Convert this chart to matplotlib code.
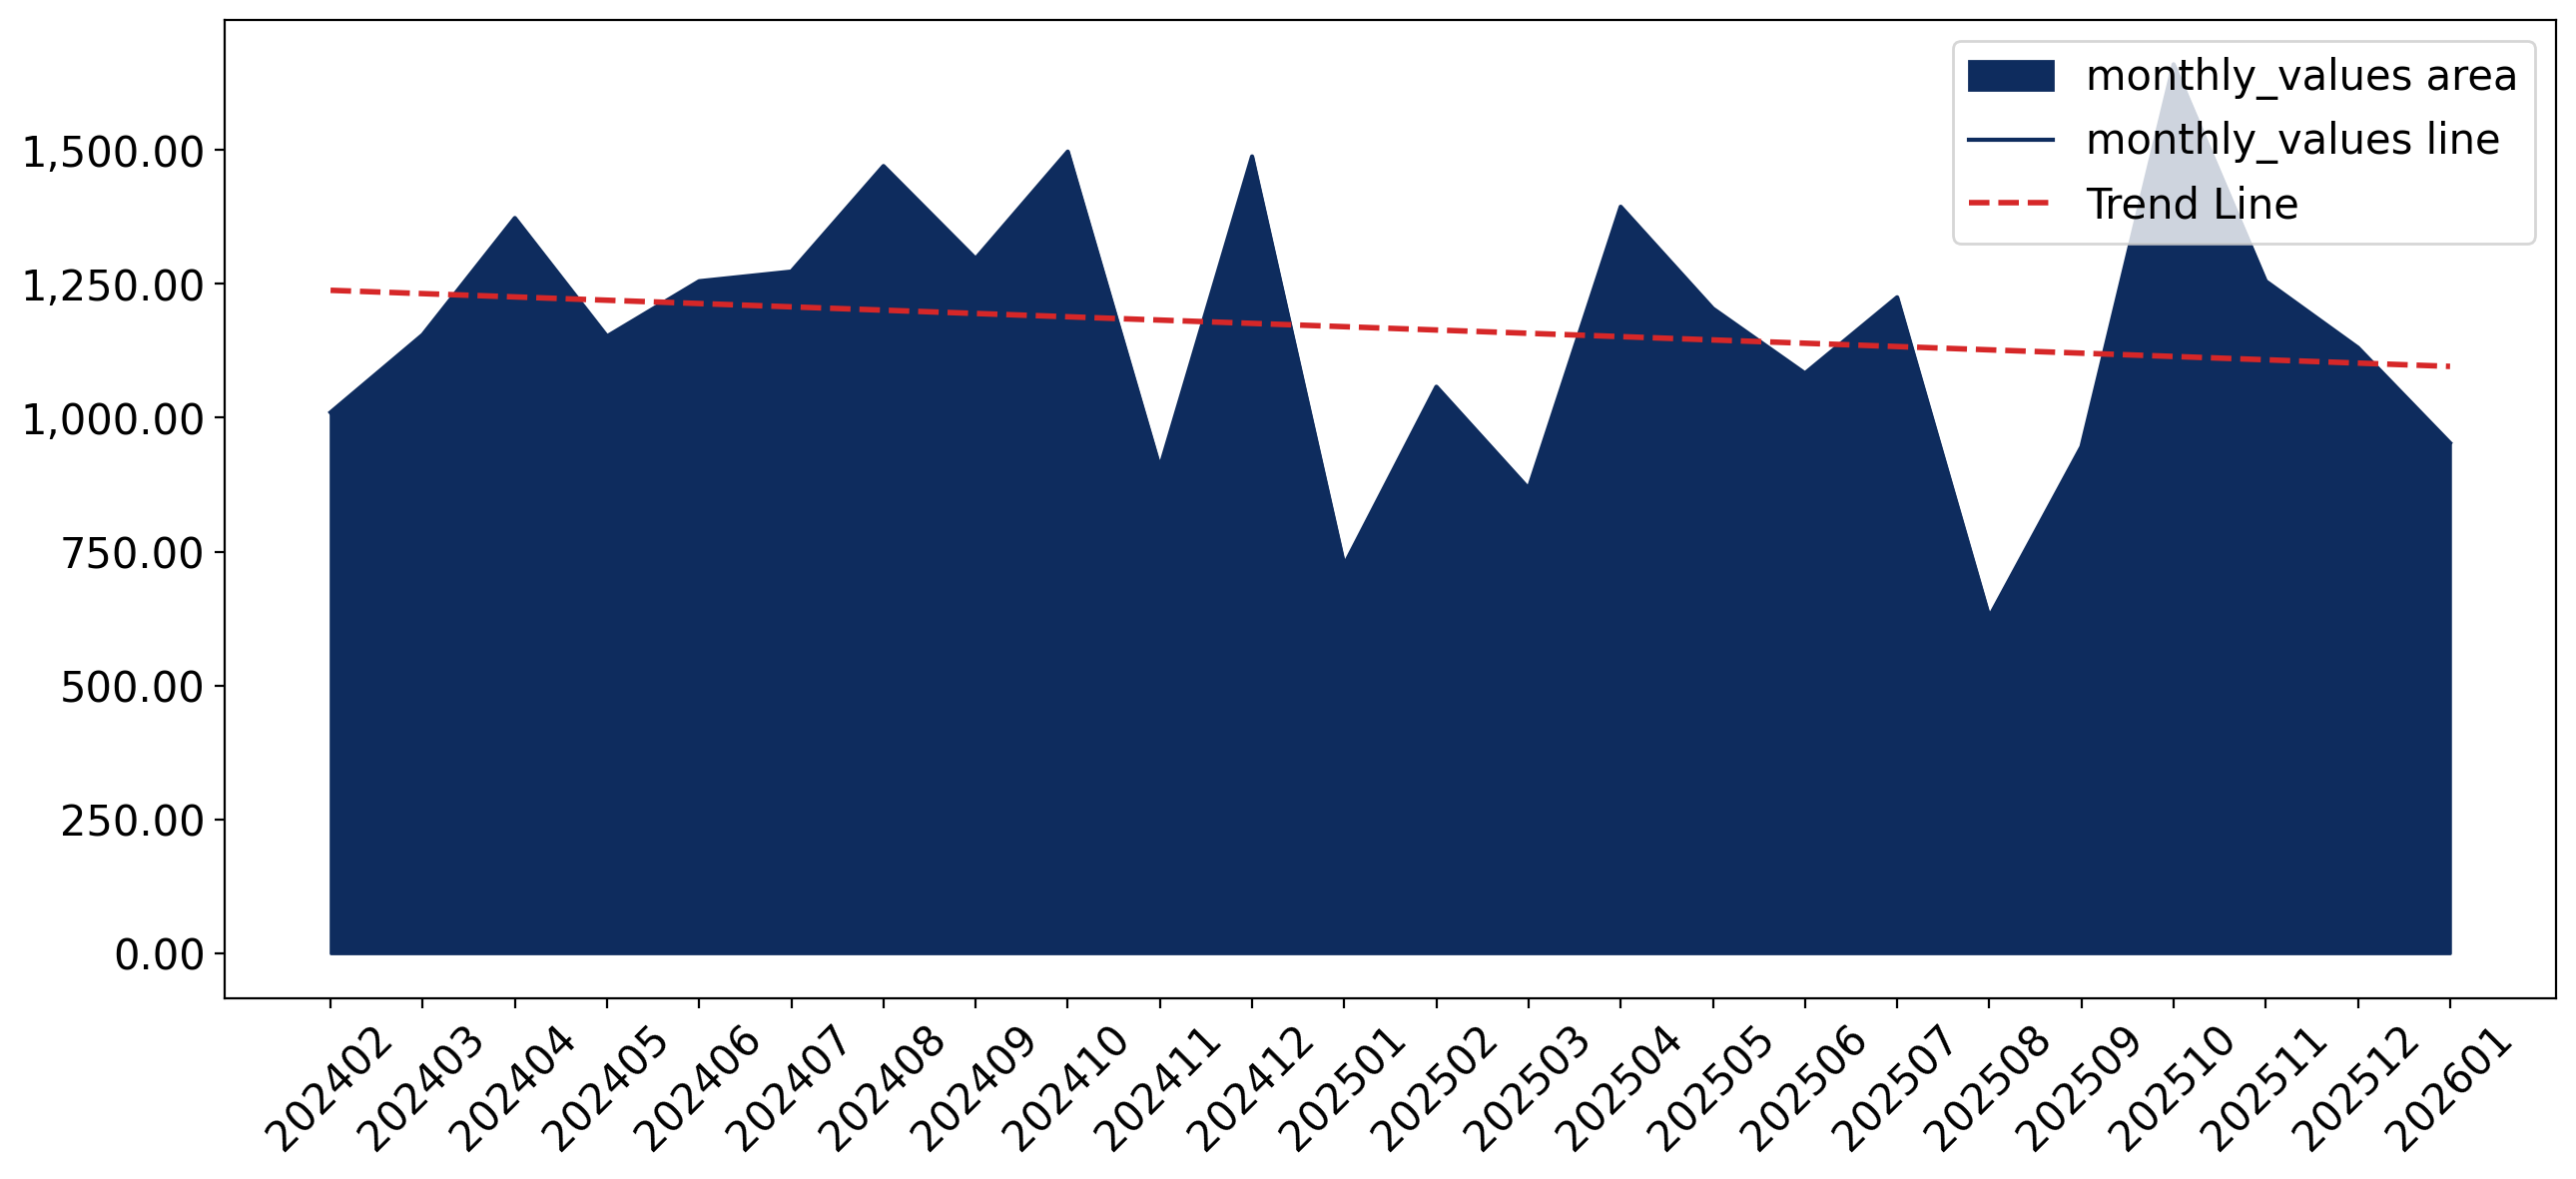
import matplotlib

matplotlib.use('Agg')

import matplotlib.pyplot as plt
import matplotlib.ticker as mticker
import numpy as np

months = ['202402', '202403', '202404', '202405', '202406', '202407', '202408', '202409',
          '202410', '202411', '202412', '202501', '202502', '202503', '202504', '202505',
          '202506', '202507', '202508', '202509', '202510', '202511', '202512', '202601']
monthly_values = [1010, 1155, 1373, 1152, 1255, 1273, 1470, 1297,
                  1497, 907, 1488, 725, 1058, 868, 1394, 1204,
                  1083, 1225, 628, 946, 1660, 1255, 1131, 953]

area_color = '#0e2c5e'

fig, ax = plt.subplots(figsize=(13, 6))
x = np.arange(len(months))

# 面積 + 線
ax.fill_between(x, monthly_values, color=area_color, label='monthly_values area')
ax.plot(x, monthly_values, color=area_color, linewidth=1.5, label='monthly_values line')

# 趨勢線
slope, intercept = np.polyfit(x, monthly_values, 1)
ax.plot(x, slope * x + intercept, linestyle='--', color='#d62728', linewidth=2, label='Trend Line')

ax.set_xticks(x)
ax.set_xticklabels(months, rotation=45, fontsize=15)
ax.tick_params(axis='y', labelsize=15)
ax.yaxis.set_major_locator(mticker.MultipleLocator(250))
ax.yaxis.set_major_formatter(mticker.StrMethodFormatter('{x:,.2f}'))

ax.legend(loc='upper right', fontsize=15)

plt.tight_layout()
plt.savefig('out.png', dpi=200, bbox_inches='tight')
plt.close()
